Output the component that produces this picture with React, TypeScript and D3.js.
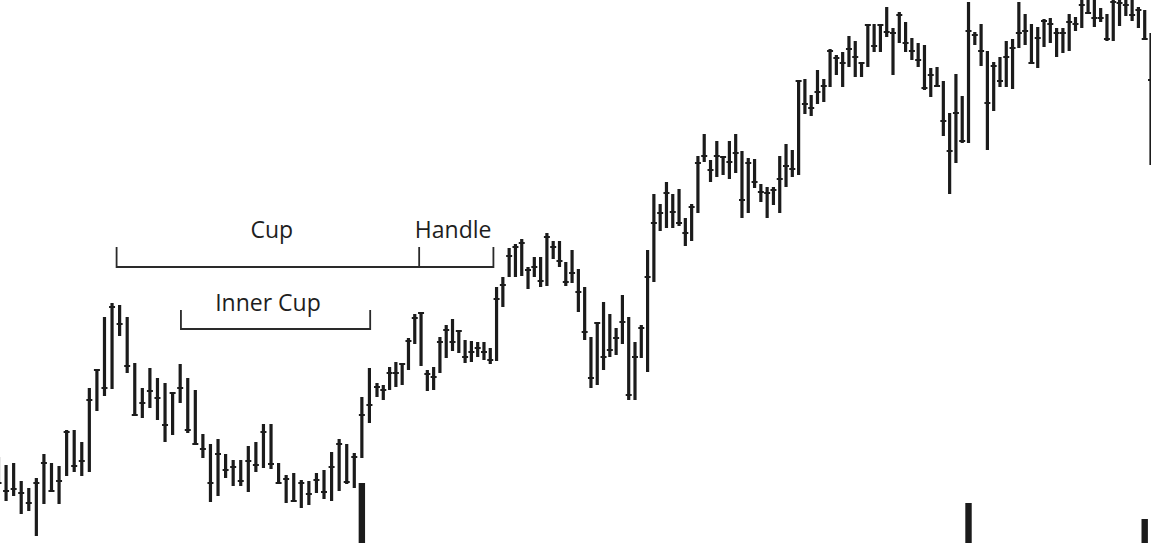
import * as d3 from 'd3'
import React from 'react'

// bar data (price units)
const highs = [
  8.6, 7.8, 8.0, 6.2, 5.5, 6.5, 8.9, 8.0, 7.7, 11.3, 11.3, 10.1, 15.5, 17.4, 22.6, 24.0, 23.8, 22.6, 18.0, 15.5,
  17.5, 16.5, 16.0, 15.0, 17.9, 16.5, 15.3, 10.9, 9.9, 10.4, 8.9, 8.3, 8.3, 9.7, 10.1, 11.9, 11.9, 8.0, 6.8, 7.0,
  6.3, 6.2, 7.0, 7.3, 9.1, 10.4, 9.9, 9.0, 14.6, 17.5, 16.0, 15.8, 17.6, 18.1, 18.0, 20.5, 22.9, 23.1, 17.3, 17.6,
  20.6, 21.8, 22.4, 21.3, 20.3, 20.2, 20.1, 20.1, 19.5, 25.6, 26.6, 29.5, 29.9, 30.4, 27.6, 28.6, 28.6, 31.0, 30.2, 30.2,
  28.1, 29.3, 27.4, 25.6, 20.6, 22.0, 24.1, 22.9, 21.5, 24.8, 22.6, 20.1, 21.8, 29.3, 34.9, 33.9, 36.1, 34.9, 35.4, 32.5,
  33.9, 38.7, 40.9, 38.3, 40.2, 38.7, 40.2, 40.9, 39.2, 38.5, 38.4, 35.9, 35.6, 35.6, 38.7, 39.9, 39.3, 46.3, 46.4, 44.8,
  47.3, 46.4, 49.4, 48.8, 49.1, 50.7, 50.2, 48.1, 51.9, 51.9, 51.9, 53.6, 51.5, 53.1, 52.1, 50.5, 50.0, 49.8, 47.5, 47.6,
  46.2, 43.0, 46.9, 44.7, 54.1, 51.1, 51.9, 49.2, 48.1, 48.6, 50.2, 50.4, 54.1, 52.9, 51.9, 51.6, 52.4, 52.5, 51.5, 51.5,
  52.9, 52.6, 54.6, 54.6, 54.6, 53.5, 52.9, 54.6, 54.6, 54.6, 54.6, 53.6, 53.3, 51.0,
]
const lows = [
  6.0, 4.2, 4.7, 2.9, 3.2, 0.7, 3.9, 5.1, 3.9, 6.7, 7.1, 6.7, 7.1, 13.2, 14.7, 15.4, 20.7, 17.0, 12.7, 12.5,
  13.5, 12.3, 10.1, 10.8, 14.0, 11.0, 9.8, 8.5, 4.1, 4.7, 6.5, 5.7, 5.7, 5.1, 7.1, 7.5, 7.4, 5.9, 4.0, 4.1,
  3.5, 3.8, 5.0, 4.4, 4.2, 5.2, 5.9, 5.5, 8.5, 12.0, 14.6, 14.3, 15.3, 15.6, 15.8, 17.3, 19.9, 17.7, 15.2, 15.3,
  17.0, 18.5, 19.2, 19.0, 18.0, 18.1, 18.6, 18.3, 17.9, 18.2, 23.6, 26.6, 26.6, 26.7, 25.4, 26.6, 25.6, 25.7, 28.4, 27.6,
  25.7, 26.0, 23.1, 20.3, 15.5, 15.8, 17.3, 18.6, 18.8, 19.9, 14.3, 14.3, 18.5, 17.1, 26.1, 31.2, 31.5, 31.5, 31.7, 29.7,
  30.2, 33.0, 38.1, 36.1, 36.6, 36.8, 36.4, 37.0, 32.5, 33.0, 35.5, 34.1, 32.5, 33.8, 33.0, 35.6, 36.6, 36.8, 42.9, 42.7,
  43.9, 44.1, 45.6, 46.8, 45.6, 47.6, 46.6, 46.6, 47.6, 49.1, 49.1, 50.6, 46.8, 50.0, 49.1, 48.3, 47.6, 45.3, 44.6, 45.6,
  40.7, 34.9, 38.0, 40.0, 40.0, 49.8, 47.7, 39.3, 43.2, 45.6, 45.6, 45.4, 49.5, 49.8, 47.9, 47.5, 49.6, 50.0, 48.6, 49.0,
  49.2, 51.2, 51.5, 52.9, 51.6, 52.1, 50.2, 50.2, 51.7, 52.7, 52.2, 51.5, 50.3, 37.8,
]
const closes = [
  6.0, 5.2, 5.4, 5.0, 4.0, 6.0, 8.0, 5.2, 6.2, 11.1, 7.7, 8.2, 14.3, 17.3, 15.5, 23.6, 21.9, 17.7, 12.8, 14.0,
  15.2, 14.5, 11.8, 15.0, 15.5, 11.3, 9.9, 9.4, 6.0, 8.9, 7.3, 7.6, 6.2, 8.2, 7.8, 11.1, 7.9, 6.0, 6.4, 4.2,
  6.0, 4.9, 6.3, 5.1, 7.6, 9.9, 6.1, 8.6, 12.8, 13.8, 15.6, 15.3, 17.0, 17.0, 17.9, 20.2, 22.5, 23.0, 16.9, 16.6,
  20.1, 21.3, 20.1, 21.2, 18.6, 19.1, 19.5, 19.1, 18.3, 24.4, 25.8, 28.7, 29.6, 30.0, 27.3, 27.6, 26.2, 30.6, 29.6, 28.2,
  26.1, 27.0, 25.1, 21.1, 16.5, 22.0, 18.6, 19.3, 20.5, 22.1, 14.8, 18.6, 21.5, 26.6, 32.0, 33.0, 35.0, 33.1, 32.0, 31.0,
  33.6, 38.0, 38.7, 37.3, 38.7, 38.6, 38.1, 39.0, 34.3, 38.0, 36.1, 35.1, 35.0, 35.3, 36.4, 37.7, 37.4, 46.2, 43.9, 43.5,
  45.1, 45.7, 49.2, 48.5, 48.0, 49.4, 48.6, 48.0, 51.8, 49.7, 51.8, 51.1, 51.0, 52.8, 50.0, 49.2, 48.3, 45.5, 46.8, 45.7,
  42.2, 39.2, 43.0, 40.2, 51.2, 50.8, 49.2, 44.0, 47.7, 46.2, 48.6, 49.5, 51.0, 51.2, 48.0, 50.5, 52.2, 51.9, 51.0, 51.0,
  52.1, 51.9, 53.8, 53.0, 52.5, 52.5, 50.4, 54.1, 54.0, 53.8, 52.8, 53.3, 50.4, 46.3,
]

// the few volume bars that show at the bottom
const volumeBars = [48, 144, 172]
const volumeValues = [6.0, 4.0, 2.4]

// bracket annotations: bar index span and price level
const brackets = [
  { from: 15.6, to: 68.5, mid: 56.7, level: 27.6, tick: 2.0 },
  { from: 24.1, to: 49.1, mid: null, level: 21.4, tick: 1.9 },
]
const labels = ['Cup', 'Handle', 'Inner Cup']
const labelPos = [36.1, 62.1, 35.6]
const labelLevel = [30.5, 30.5, 23.2]

const W = 1151
const H = 543

const App = () => {
  const xScale = d3.scaleLinear().domain([0, 50, 173]).range([-1.5, 377, 1151])
  const yScale = d3.scaleLinear().domain([0, 54.3]).range([H, 0])
  const vScale = d3.scaleLinear().domain([0, 10]).range([0, 100])
  const ink = '#1b1b1b'

  const bars = highs.map((h, i) => {
    const x = xScale(i)
    return (
      <g key={i}>
        <line x1={x} x2={x} y1={yScale(h)} y2={yScale(lows[i])} stroke={ink} strokeWidth={3.2} />
        <line x1={x - 3} x2={x + 3} y1={yScale(closes[i])} y2={yScale(closes[i])} stroke={ink} strokeWidth={2} />
      </g>
    )
  })

  const vols = volumeBars.map((b, i) => (
    <rect key={b} x={xScale(b) - 3.2} y={H - vScale(volumeValues[i])} width={6.4} height={vScale(volumeValues[i])} fill={ink} />
  ))

  const ann = brackets.map((br, i) => {
    const y = yScale(br.level)
    const yt = yScale(br.level + br.tick)
    return (
      <g key={i} stroke="#2a2a2a" strokeWidth={1.8} fill="none">
        <path d={`M${xScale(br.from)},${yt}V${y}H${xScale(br.to)}V${yt}`} />
        {br.mid !== null && <line x1={xScale(br.mid)} x2={xScale(br.mid)} y1={yt} y2={y} />}
      </g>
    )
  })

  return (
    <svg width={W} height={H} style={{ position: 'absolute', left: 0, top: 0, background: '#fff' }}>
      {vols}
      {bars}
      {ann}
      {labels.map((t, i) => (
        <text key={t} x={xScale(labelPos[i])} y={yScale(labelLevel[i])} textAnchor="middle"
          fontFamily="'Open Sans', sans-serif" fontSize={23} fill="#1e1e1e">{t}</text>
      ))}
    </svg>
  )
}

export default App
